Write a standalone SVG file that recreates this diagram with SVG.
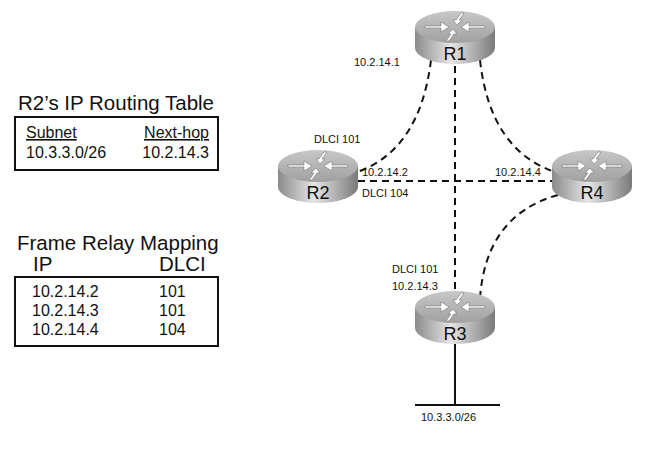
<svg xmlns="http://www.w3.org/2000/svg" width="645" height="454" viewBox="0 0 645 454">
<defs>
<linearGradient id="body" x1="0" x2="1" y1="0" y2="0">
<stop offset="0" stop-color="#8a8a8a"/><stop offset="0.45" stop-color="#e6e6e6"/><stop offset="1" stop-color="#7a7a7a"/>
</linearGradient>
<linearGradient id="top" x1="0" x2="0" y1="0" y2="1">
<stop offset="0" stop-color="#c8c8c8"/><stop offset="1" stop-color="#a0a0a0"/>
</linearGradient>
<g id="router">
<path d="M-40,-9 V12 A40,16 0 0 0 40,12 V-9 Z" fill="url(#body)"/>
<ellipse cx="0" cy="-9" rx="40" ry="16" fill="url(#top)"/>
<g fill="#fff" stroke="#777" stroke-width="0.6">
<path d="M-30,-10 L-14,-10 L-14,-14 L-6,-9 L-14,-4 L-14,-8 L-30,-8 Z"/>
<path d="M30,-8 L14,-8 L14,-4 L6,-9 L14,-14 L14,-10 L30,-10 Z"/>
<path d="M9,-23 L4,-16 L7,-16 L2,-11 L-2,-16 L1,-16 L6,-23 Z"/>
<path d="M-9,5 L-4,-2 L-7,-2 L-2,-7 L2,-2 L-1,-2 L-6,5 Z"/>
</g>
</g>
</defs>
<style>
text{font-family:"Liberation Sans",Arial,sans-serif;fill:#111}
.s{font-size:11px}.m{font-size:16px}.t{font-size:20.5px}.r{font-size:18px}
.d{fill:none;stroke:#111;stroke-width:2;stroke-dasharray:7,5}
.box{fill:none;stroke:#111;stroke-width:2}
</style>
<g id="connectors">
<path class="d" d="M431,60 Q420,150 357,172"/>
<path class="d" d="M480,60 Q490,150 555,172"/>
<path class="d" d="M480,298 Q486,215 558,195"/>
<path class="d" d="M455,66 V296"/>
<path class="d" d="M358,181 H553"/>
<path d="M455,340 V405 M415,405 H500" fill="none" stroke="#111" stroke-width="2"/>
</g>
<g id="R1"><use href="#router" x="455" y="36"/><text class="r" x="455" y="60" text-anchor="middle">R1</text></g>
<g id="R2"><use href="#router" x="318" y="175"/><text class="r" x="318" y="199" text-anchor="middle">R2</text></g>
<g id="R4"><use href="#router" x="592" y="175"/><text class="r" x="592" y="199" text-anchor="middle">R4</text></g>
<g id="R3"><use href="#router" x="455" y="316"/><text class="r" x="455" y="340" text-anchor="middle">R3</text></g>
<g id="labels">
<text class="s" x="354" y="66">10.2.14.1</text>
<text class="s" x="314" y="143">DLCI 101</text>
<text class="s" x="362" y="176">10.2.14.2</text>
<text class="s" x="362" y="197">DLCI 104</text>
<text class="s" x="495" y="176">10.2.14.4</text>
<text class="s" x="392" y="273">DLCI 101</text>
<text class="s" x="392" y="290">10.2.14.3</text>
<text class="s" x="421" y="421">10.3.3.0/26</text>
</g>
<g id="routing-table">
<text class="t" x="18" y="110">R2’s IP Routing Table</text>
<rect class="box" x="15" y="117" width="203" height="53"/>
<text class="m" x="26" y="138" text-decoration="underline">Subnet</text>
<text class="m" x="209" y="138" text-anchor="end" text-decoration="underline">Next-hop</text>
<text class="m" x="26" y="158">10.3.3.0/26</text>
<text class="m" x="209" y="158" text-anchor="end">10.2.14.3</text>
</g>
<g id="frame-relay">
<text class="t" x="17" y="250">Frame Relay Mapping</text>
<text class="t" x="33" y="271">IP</text>
<text class="t" x="159" y="271">DLCI</text>
<rect class="box" x="15" y="277" width="203" height="69"/>
<text class="m" x="32" y="297">10.2.14.2</text><text class="m" x="159" y="297">101</text>
<text class="m" x="32" y="316">10.2.14.3</text><text class="m" x="159" y="316">101</text>
<text class="m" x="32" y="335">10.2.14.4</text><text class="m" x="159" y="335">104</text>
</g>
</svg>
